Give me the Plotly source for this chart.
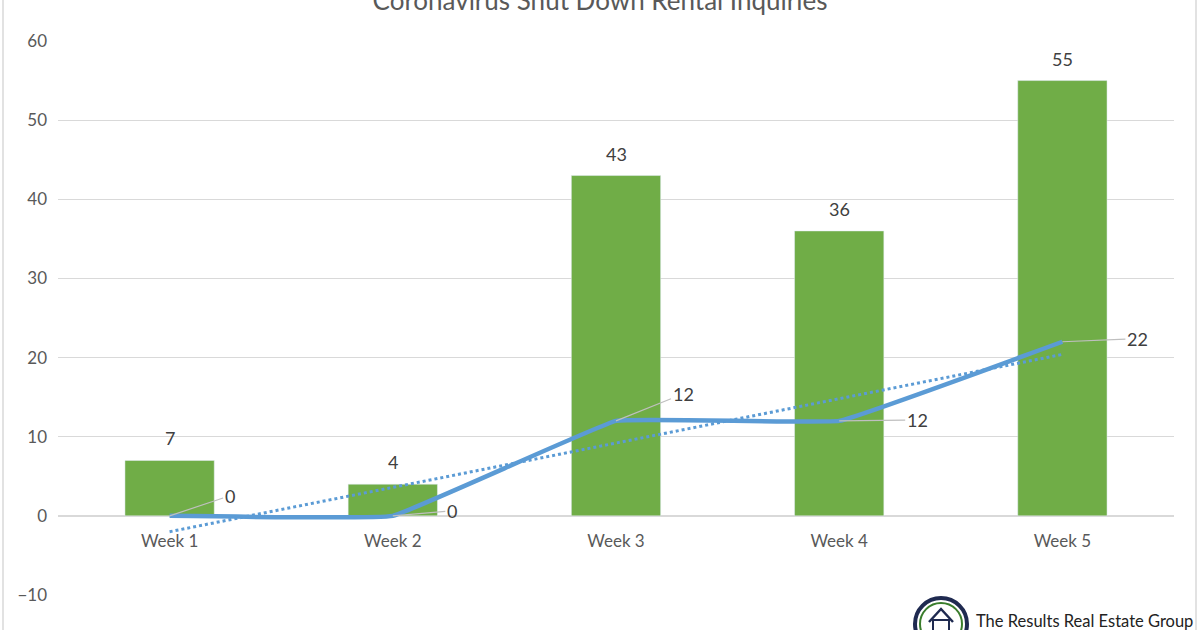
import numpy as np
import plotly.graph_objects as go

# ---- data ----
weeks = ["Week 1", "Week 2", "Week 3", "Week 4", "Week 5"]
rental_inquiries = [7, 4, 43, 36, 55]
line_values = [0, 0, 12, 12, 22]
y_ticks = [-10, 0, 10, 20, 30, 40, 50, 60]
title_text = "Coronavirus Shut Down Rental Inquiries"
brand_text = "The Results Real Estate Group"

# ---- styles ----
GREEN = "#70AD47"
BLUE = "#5B9BD5"
TXT = "#595959"
FONT = "Lato"

# linear trendline (Excel-style) of the line series
xi = np.arange(1, len(line_values) + 1)
slope, intercept = np.polyfit(xi, line_values, 1)
trend = slope * xi + intercept

# plot-area pixel geometry (for paper-coordinate decorations)
L, R, T, B = 58, 1174, 41, 595
W, H = R - L, B - T
def px(x): return (x - L) / W
def py(y): return (B - y) / H

fig = go.Figure()
fig.add_trace(go.Bar(x=weeks, y=rental_inquiries, marker_color=GREEN, width=0.4,
                     hoverinfo="skip", showlegend=False))
fig.add_trace(go.Scatter(x=weeks, y=trend, mode="lines",
                         line=dict(color=BLUE, width=3, dash="dot"),
                         hoverinfo="skip", showlegend=False))
fig.add_trace(go.Scatter(x=weeks, y=line_values, mode="lines",
                         line=dict(color=BLUE, width=4.5, shape="spline", smoothing=0.2),
                         hoverinfo="skip", showlegend=False))

annotations = []
# bar value labels
for w, v in zip(weeks, rental_inquiries):
    annotations.append(dict(x=w, y=v, text=str(v), showarrow=False, yshift=22,
                            font=dict(family=FONT, size=18, color="#404040")))
# line callout labels
label_offsets = [(60, -20), (59, -5), (67, -27), (78, -1), (75, -3)]
for w, v, (ax, ay) in zip(weeks, line_values, label_offsets):
    annotations.append(dict(x=w, y=v, text=str(v), showarrow=True, arrowhead=0,
                            arrowwidth=1.2, arrowcolor="#BFBFBF", ax=ax, ay=ay,
                            font=dict(family=FONT, size=18, color="#404040")))
# brand text
annotations.append(dict(xref="paper", yref="paper", x=px(974), y=py(621), text=brand_text,
                        showarrow=False, xanchor="left", yanchor="middle",
                        font=dict(family=FONT, size=16.5, color="#222222")))

shapes = [
    # chart border (sides)
    dict(type="line", xref="paper", yref="paper", x0=px(3), x1=px(3), y0=py(0), y1=py(630),
         line=dict(color="#D9D9D9", width=1.5)),
    dict(type="line", xref="paper", yref="paper", x0=px(1196), x1=px(1196), y0=py(0), y1=py(630),
         line=dict(color="#D9D9D9", width=1.5)),
    # logo rings
    dict(type="circle", xref="paper", yref="paper", x0=px(915), x1=px(967), y0=py(598), y1=py(650),
         line=dict(color="#1F2A50", width=4), fillcolor="white"),
    dict(type="circle", xref="paper", yref="paper", x0=px(920), x1=px(962), y0=py(603), y1=py(645),
         line=dict(color="#3A7D2C", width=2)),
    # house icon
    dict(type="path", xref="paper", yref="paper",
         path=f"M {px(929)} {py(622)} L {px(941)} {py(609)} L {px(953)} {py(622)}",
         line=dict(color="#1F2A50", width=2.5)),
    dict(type="rect", xref="paper", yref="paper", x0=px(933), x1=px(949), y0=py(635), y1=py(620),
         line=dict(color="#1F2A50", width=2), fillcolor="white"),
]

fig.update_layout(
    width=1200, height=630,
    margin=dict(l=L, r=1200 - R, t=T, b=630 - B),
    paper_bgcolor="white", plot_bgcolor="white",
    title=dict(text=title_text, x=0.5, xref="container", y=0.999, yref="container",
               xanchor="center", yanchor="middle",
               font=dict(family=FONT, size=26, color=TXT)),
    xaxis=dict(type="category", range=[-0.5, 4.5], showgrid=False, showline=False,
               zeroline=False, ticks="", tickfont=dict(family=FONT, size=17, color=TXT),
               anchor="free", position=py(529)),
    yaxis=dict(range=[-10, 60], tickvals=y_ticks, showgrid=True, gridcolor="#D9D9D9",
               gridwidth=1, zeroline=True, zerolinecolor="#D9D9D9", zerolinewidth=1.5,
               showline=False, ticks="", ticklabelstandoff=10,
               tickfont=dict(family=FONT, size=17, color=TXT)),
    annotations=annotations,
    shapes=shapes,
    bargap=0.6,
)

fig.write_html("out.html", config={"displayModeBar": False},
               post_script="document.body.style.margin='0';document.body.style.overflow='hidden';")
